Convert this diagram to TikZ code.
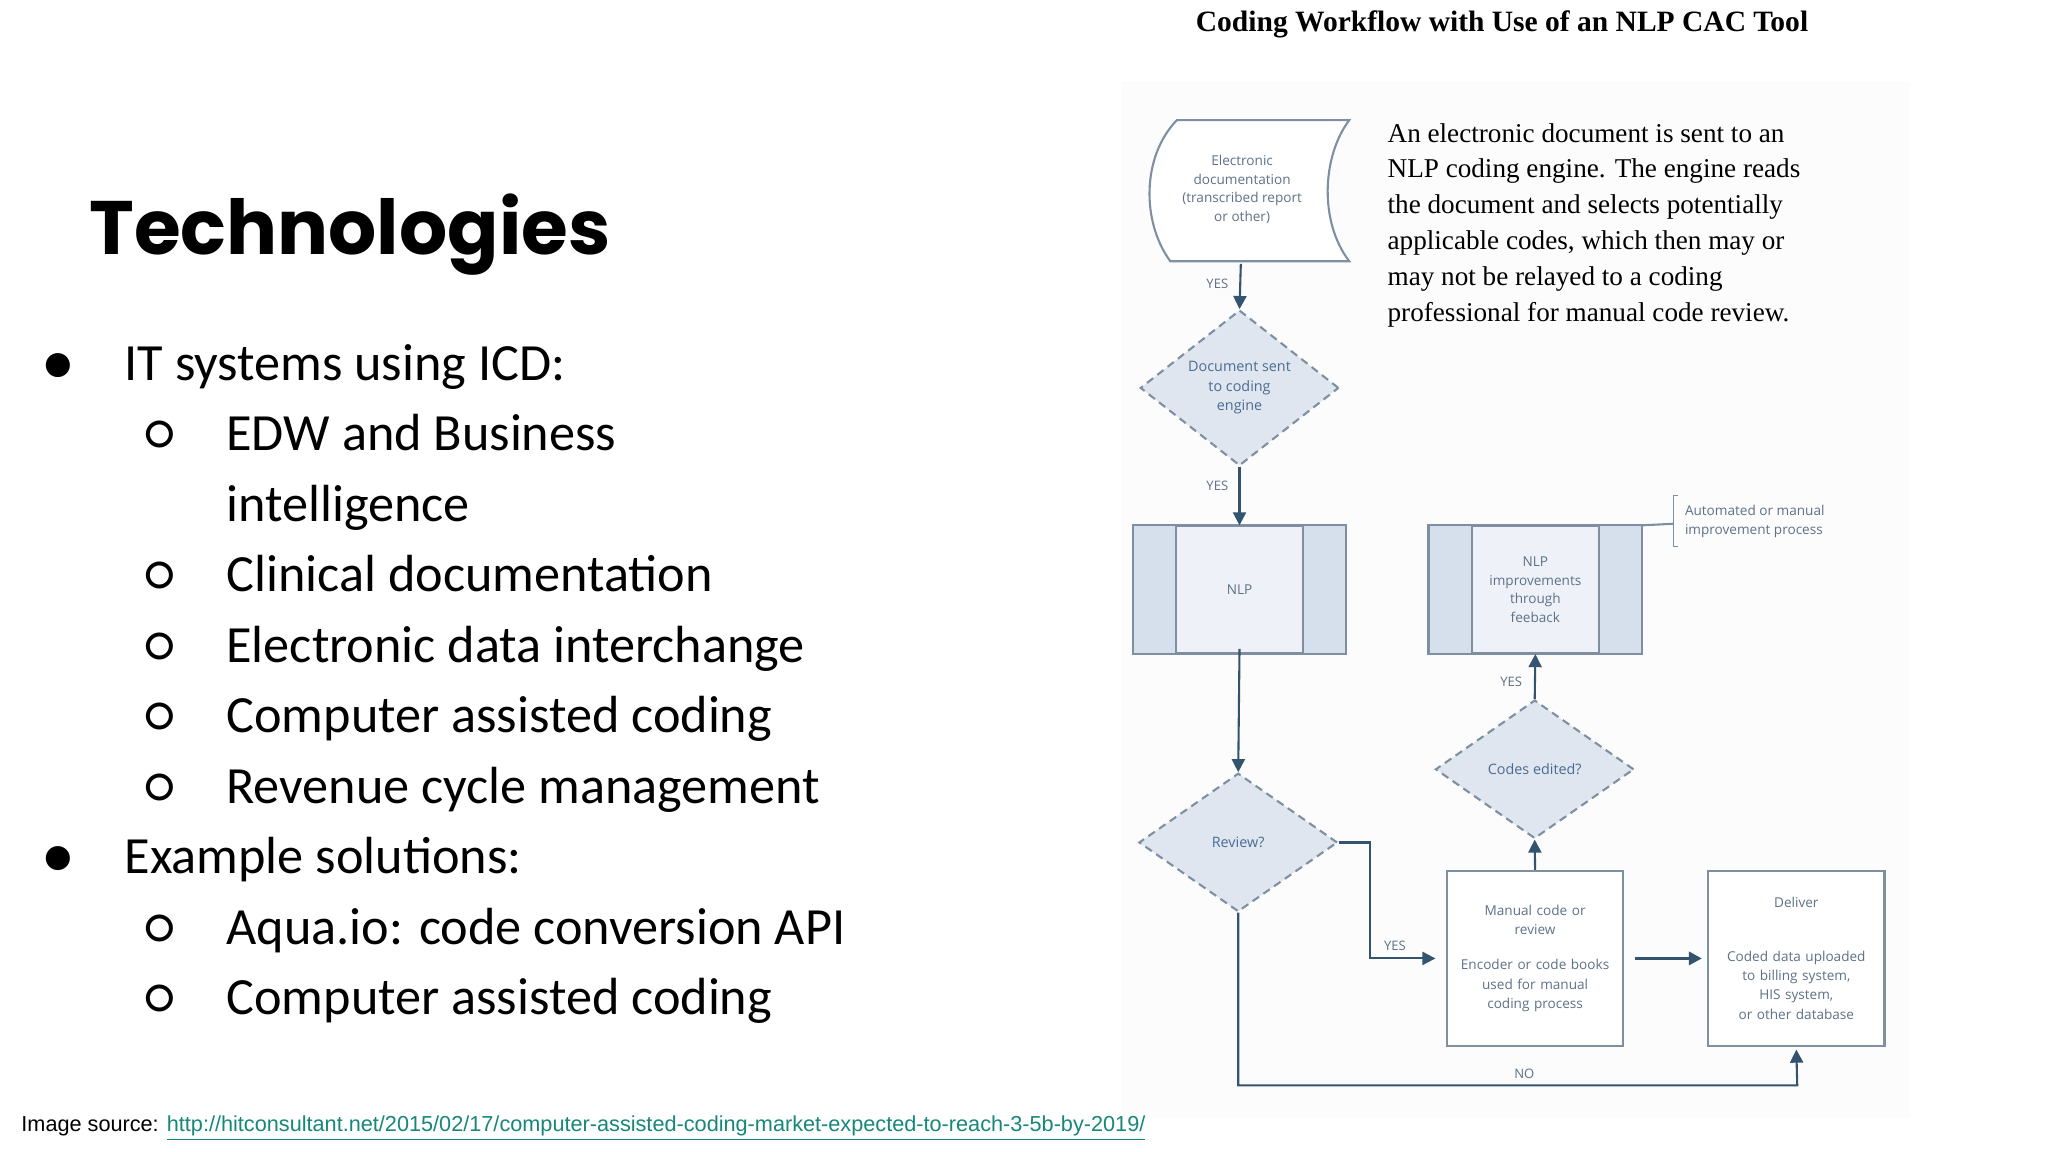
\documentclass[tikz,border=0pt]{standalone}
\usepackage{fontspec}
\setmainfont{Carlito}
\newfontfamily\titlefont{Poppins}
\newfontfamily\seriff{Liberation Serif}
\newfontfamily\sansf{Liberation Sans}
\newfontfamily\smallf{Open Sans}
\usetikzlibrary{shapes.geometric,arrows.meta,calc}
\definecolor{arr}{HTML}{33536F}
\definecolor{bord}{HTML}{7D8FA0}
\definecolor{dfill}{HTML}{E0E6EF}
\definecolor{side}{HTML}{D6DFEC}
\definecolor{mid}{HTML}{EEF2F8}
\definecolor{btxt}{HTML}{5E7188}
\definecolor{dtxt}{HTML}{4A6C93}
\definecolor{link}{HTML}{17877A}
\tikzset{
 x=0.5pt,y=-0.5pt,
 bul/.style={anchor=base west,font=\fontsize{20}{24}\selectfont,inner sep=0},
 tiny/.style={font=\smallf\fontsize{5.2}{7.2}\selectfont,text=btxt,align=center},
 dia/.style={diamond,draw=bord,densely dashed,thick,fill=dfill,minimum width=76pt,minimum height=53pt,inner sep=0,font=\smallf\fontsize{5.5}{7.5}\selectfont,text=dtxt,align=center},
 box/.style={draw=bord,thick,fill=white,minimum width=67.5pt,minimum height=67pt,inner sep=2pt},
 pbox/.style={draw=bord,thick,fill=mid,minimum width=81pt,minimum height=48.5pt,inner sep=0},
 con/.style={draw=arr,thick,-{Triangle[length=5pt,width=5pt]}},
 lab/.style={font=\smallf\fontsize{5}{6}\selectfont,text=btxt},
}
\begin{document}
\begin{tikzpicture}
\useasboundingbox (0,0) rectangle (1568,882);
\fill[white] (0,0) rectangle (1568,882);
\fill[black!1] (858,62) rectangle (1462,856);
% left side
\node[anchor=base west,inner sep=0,font=\titlefont\bfseries\fontsize{29}{34}\selectfont] (ttl) at (68,195) {Technologies};
\node[bul] (b1) at (32,291) {●};
\node[bul] (t1) at (95,291) {IT systems using ICD:};
\node[bul] (b2) at (111,345) {○};
\node[bul] (t2) at (173,345) {EDW and Business};
\node[bul] (t2b) at (173,399) {intelligence};
\node[bul] (b3) at (111,453) {○};
\node[bul] (t3) at (173,453) {Clinical documentation};
\node[bul] (b4) at (111,507) {○};
\node[bul] (t4) at (173,507) {Electronic data interchange};
\node[bul] (b5) at (111,561) {○};
\node[bul] (t5) at (173,561) {Computer assisted coding};
\node[bul] (b6) at (111,615) {○};
\node[bul] (t6) at (173,615) {Revenue cycle management};
\node[bul] (b7) at (32,669) {●};
\node[bul] (t7) at (95,669) {Example solutions:};
\node[bul] (b8) at (111,723) {○};
\node[bul] (t8) at (173,723) {Aqua.io: code conversion API};
\node[bul] (b9) at (111,777) {○};
\node[bul] (t9) at (173,777) {Computer assisted coding};
\node[anchor=base west,inner sep=0,font=\sansf\fontsize{8.3}{10}\selectfont] (src) at (16,866) {Image source: \textcolor{link}{\underline{http://hitconsultant.net/2015/02/17/computer-assisted-coding-market-expected-to-reach-3-5b-by-2019/}}};
% flowchart
\node[font=\seriff\bfseries\fontsize{11.3}{13}\selectfont] (ft) at (1150,19) {Coding Workflow with Use of an NLP CAC Tool};
\draw[draw=bord,thick,fill=white] (901,92) -- (1033,92) .. controls (1012,120) and (1010,170) .. (1033,200) -- (896,200) .. controls (874,170) and (874,120) .. (901,92) -- cycle;
\node[tiny] (doc) at (951,145) {Electronic\\documentation\\(transcribed report\\or other)};
\coordinate (docb) at (950,202);
\node[anchor=north west,align=left,inner sep=0,font=\seriff\fontsize{10.4}{13.7}\selectfont] (para) at (1062,94) {An electronic document is sent to an\\NLP coding engine. The engine reads\\the document and selects potentially\\applicable codes, which then may or\\may not be relayed to a coding\\professional for manual code review.};
\node[dia] (d1) at (949,297) {Document sent\\to coding\\engine};
\node[pbox] (nlp) at (949,451.5) {};
\node[pbox] (imp) at (1175.5,451.5) {};
\foreach \n in {nlp,imp}{
 \fill[side] (\n.north west) rectangle ($(\n.south west)+(16.5pt,0)$);
 \fill[side] ($(\n.north east)-(16.5pt,0)$) rectangle (\n.south east);
 \draw[bord,thick] ($(\n.north west)+(16.5pt,0)$) -- ($(\n.south west)+(16.5pt,0)$);
 \draw[bord,thick] ($(\n.north east)-(16.5pt,0)$) -- ($(\n.south east)-(16.5pt,0)$);
 \draw[bord,thick] (\n.north west) rectangle (\n.south east);
}
\node[tiny] (nlpt) at (nlp.center) {NLP};
\node[tiny] (impt) at (imp.center) {NLP\\improvements\\through\\feeback};
\node[tiny,align=left,anchor=west] (auto) at (1283,399) {Automated or manual\\improvement process};
\draw[bord] ($(auto.north west)+(1pt,0)$) -- ($(auto.north west)+(-1pt,0)$) -- ($(auto.south west)+(-1pt,0)$) -- ($(auto.south west)+(1pt,0)$);
\draw[bord,thick] (imp.north east) -- ($(auto.west)+(-1pt,-1pt)$);
\node[dia] (rev) at (948,645) {Review?};
\node[dia] (ced) at (1175,589) {Codes edited?};
\node[box,anchor=north west,text width=62pt,align=center,font=\smallf\fontsize{5.2}{7.4}\selectfont,text=btxt] (man) at (1107,666) {Manual code or\\review\\[6pt]Encoder or code books\\used for manual\\coding process};
\node[box,anchor=north west,text width=62pt,align=center,font=\smallf\fontsize{5.2}{7.4}\selectfont,text=btxt] (del) at (1307,666) {Deliver\\[13pt]Coded data uploaded\\to billing system,\\HIS system,\\or other database};
\draw[con] (docb) -- (d1.north);
\draw[con] (d1.south) -- (nlp.north);
\draw[con] (nlp.south) ++(0,-4) -- (rev.north);
\draw[con] (ced.north) -- (imp.south);
\draw[con] (man.north) -- (ced.south);
\draw[con,line width=1.4pt] ($(man.east)+(8,0)$) -- ($(del.west)+(-4,0)$);
\draw[con] (rev.east) -- ++(24,0) |- ($(man.west)+(-8,0)$);
\draw[con] (rev.south) |- (1376,831) -- ($(del.south)+(0,2)$);
\node[lab] (y1) at (932,217) {YES};
\node[lab] (y2) at (932,372) {YES};
\node[lab] (y3) at (1157,522) {YES};
\node[lab] (y4) at (1068,724) {YES};
\node[lab] (no) at (1167,822) {NO};
\end{tikzpicture}
\end{document}
